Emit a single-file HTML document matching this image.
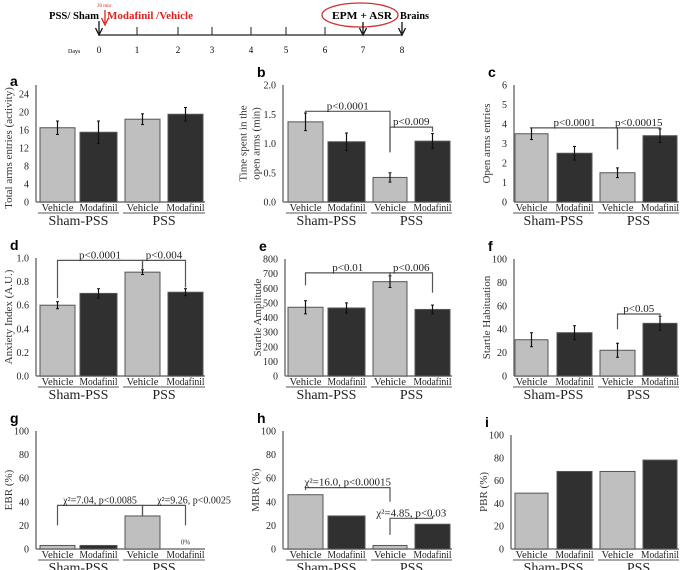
<!DOCTYPE html>
<html><head><meta charset="utf-8">
<style>
body{margin:0;background:#fff;}
svg{display:block;font-family:"Liberation Serif",serif;}
.pl{font-family:"Liberation Sans",sans-serif;font-weight:bold;font-size:14px;}
</style></head>
<body>
<svg id="fig" width="685" height="570" viewBox="0 0 685 570">
<g font-weight="bold" font-size="11">
  <text x="49" y="19" textLength="50" lengthAdjust="spacingAndGlyphs">PSS/ Sham</text>
  <text x="97" y="7" fill="#d22" font-size="5" font-weight="normal">30 min</text>
  <text x="107" y="19" fill="#d22" textLength="86" lengthAdjust="spacingAndGlyphs">Modafinil /Vehicle</text>
  <line x1="99" y1="35" x2="402" y2="35" stroke="#222" stroke-width="1.2"/>
  <line x1="99" y1="21" x2="99" y2="33" stroke="#111" stroke-width="1.3"/><path d="M95.5 28 L99 35 L102.5 28" fill="none" stroke="#111" stroke-width="1.3"/>
  <line x1="105" y1="10" x2="105" y2="23" stroke="#d22" stroke-width="1.3"/><path d="M101.5 18 L105 25 L108.5 18" fill="none" stroke="#d22" stroke-width="1.3"/>
  <ellipse cx="360" cy="15" rx="38" ry="12" fill="none" stroke="#c33" stroke-width="1.3"/>
  <text x="332" y="19" textLength="60" lengthAdjust="spacingAndGlyphs">EPM + ASR</text>
  <text x="400" y="19" textLength="29" lengthAdjust="spacingAndGlyphs">Brains</text>
  <line x1="363" y1="22" x2="363" y2="33" stroke="#111" stroke-width="1.3"/><path d="M359.5 28 L363 35 L366.5 28" fill="none" stroke="#111" stroke-width="1.3"/>
  <line x1="402" y1="22" x2="402" y2="33" stroke="#111" stroke-width="1.3"/><path d="M398.5 28 L402 35 L405.5 28" fill="none" stroke="#111" stroke-width="1.3"/>
  <text x="68" y="53" font-size="6" font-weight="normal">Days</text>
  <g id="days"></g>
</g>
<g id="panels"></g>
</svg>
<script>
const dayNums=[0,1,2,3,4,5,6,7,8];
const dayX=[99,137,178,212,251,286,325,363,402];
const NS="http://www.w3.org/2000/svg";
function mk(p,t,a,txt){const e=document.createElementNS(NS,t);for(const k in a)e.setAttribute(k,a[k]);if(txt!==undefined)e.textContent=txt;p.appendChild(e);return e;}
const dg=document.getElementById('days');
dayNums.forEach((d,i)=>{
  if(i>0&&i<7){mk(dg,'line',{x1:dayX[i],y1:27,x2:dayX[i],y2:35,stroke:'#222'});}
  const t=mk(dg,'text',{x:dayX[i],y:53,'text-anchor':'middle','font-size':9,'font-weight':'normal'},String(d));
  
  
});

const categories=["Vehicle","Modafinil","Vehicle","Modafinil"];
const groups=["Sham-PSS","PSS"];
const aVals=[16.5,15.5,18.4,19.5], aErr=[1.5,2.5,1.2,1.5], aTicks=[0,4,8,12,16,20,24];
const bVals=[1.37,1.03,0.42,1.04], bErr=[0.15,0.15,0.08,0.13], bTicks=[0.0,0.5,1.0,1.5,2.0];
const cVals=[3.5,2.5,1.5,3.4], cErr=[0.3,0.35,0.25,0.35], cTicks=[0,1,2,3,4,5,6];
const dVals=[0.60,0.70,0.88,0.71], dErr=[0.03,0.04,0.02,0.03], dTicks=[0.0,0.2,0.4,0.6,0.8,1.0];
const eVals=[470,465,645,455], eErr=[45,35,40,30], eTicks=[0,100,200,300,400,500,600,700,800];
const fVals=[31,37,22,45], fErr=[6,6,6,6], fTicks=[0,20,40,60,80,100];
const gVals=[3,3,28,0], gTicks=[0,20,40,60,80,100];
const hVals=[46,28,3,21], hTicks=[0,20,40,60,80,100];
const iVals=[49,68,68,78], iTicks=[0,20,40,60,80,100];

const root=document.getElementById('panels');
const colBars=[[40,75,80,117,125,160,168,203],[288,323,328,365,373,407,415,450],[515,548,557,592,600,635,643,677]];
function panel(o){
  const g=mk(root,'g',{});
  
  
  const bx=colBars[o.col];
  const y=v=>o.y0-(v-o.min)/(o.max-o.min)*(o.y0-o.yTop);
  const lt=mk(g,'text',{x:o.ax-26,y:o.yTop-8,class:'pl'},o.id);
  
  
  mk(g,'line',{x1:o.ax,y1:y(o.ticks[o.ticks.length-1])-(o.extra||0),x2:o.ax,y2:o.y0,stroke:'#777','stroke-width':1.5});
  mk(g,'line',{x1:o.ax,y1:o.y0,x2:bx[7]+2,y2:o.y0,stroke:'#777','stroke-width':1.5});
  o.ticks.forEach(t=>{
    const tl=mk(g,'text',{x:o.ax-7,y:y(t)+3.5,'text-anchor':'end','font-size':10,fill:'#222'},o.fmt?t.toFixed(1):String(t));
    
    
  });
  const tx=o.ax-24-(o.titleShift||0), ty=(o.y0+o.yTop)/2;
  const tt=mk(g,'text',{x:tx,y:ty,'text-anchor':'middle','font-size':11,fill:'#333',transform:`rotate(-90 ${tx} ${ty})`});
  
  
  o.title.forEach((s,i)=>{mk(tt,'tspan',{x:tx,dy:i==0?-(o.title.length-1)*6.5:13},s);});
  o.vals.forEach((v,i)=>{
    const x1=bx[2*i],x2=bx[2*i+1];
    if(v>0){
      const r=mk(g,'rect',{x:x1,y:y(v),width:x2-x1,height:o.y0-y(v),fill:i%2?'#303030':'#bfbfbf',stroke:'#555','stroke-width':1});
      
      
    }
    if(o.err){
      const cx=(x1+x2)/2;
      mk(g,'line',{x1:cx,y1:y(v-o.err[i]),x2:cx,y2:y(v+o.err[i]),stroke:'#111','stroke-width':1.2});
      mk(g,'line',{x1:cx-1.5,y1:y(v-o.err[i]),x2:cx+1.5,y2:y(v-o.err[i]),stroke:'#111'});
      mk(g,'line',{x1:cx-1.5,y1:y(v+o.err[i]),x2:cx+1.5,y2:y(v+o.err[i]),stroke:'#111'});
    }
    const xl=mk(g,'text',{x:(x1+x2)/2,y:o.y0+9,'text-anchor':'middle','font-size':10,fill:'#222',textLength:i%2?38:32,lengthAdjust:'spacingAndGlyphs'},categories[i]);
    
    
  });
  [0,1].forEach(k=>{
    const x1=bx[4*k]-2,x2=bx[4*k+3]+2;
    mk(g,'line',{x1:x1,y1:o.y0+11,x2:x2,y2:o.y0+11,stroke:'#555'});
    const gl=mk(g,'text',{x:(x1+x2)/2,y:o.y0+23,'text-anchor':'middle','font-size':14,fill:'#222'},groups[k]);
    
    
  });
  (o.br||[]).forEach(b=>{
    const xa=(bx[2*b[0]]+bx[2*b[0]+1])/2, xb=(bx[2*b[1]]+bx[2*b[1]+1])/2;
    const br=mk(g,'path',{d:`M${xa} ${y(b[2])} L${xa} ${y(b[4])} L${xb} ${y(b[4])} L${xb} ${y(b[3])}`,fill:'none',stroke:'#555','stroke-width':1.2});
    
    
    const bt=mk(g,'text',{x:(xa+xb)/2+(b[6]||0),y:y(b[4])-2,'text-anchor':'middle','font-size':b[7]||11,fill:'#222'},b[5]);
    
    
  });
  return {g,y,bx};
}
panel({id:'a',col:0,ax:36,y0:202,yTop:94,min:0,max:24,ticks:aTicks,vals:aVals,err:aErr,title:['Total arms entries (activity)'],extra:9});
panel({id:'b',col:1,ax:283,y0:202,yTop:85,min:0,max:2,ticks:bTicks,fmt:1,vals:bVals,err:bErr,title:['Time spent in the','open arms (min)'],titleShift:6,
  br:[[0,2,1.52,0.85,1.55,'p<0.0001'],[2,3,0.85,1.2,1.28,'p<0.009']]});
panel({id:'c',col:2,ax:514,y0:202,yTop:85,min:0,max:6,ticks:cTicks,vals:cVals,err:cErr,title:['Open arms entries'],
  br:[[0,2,3.8,2.7,3.8,'p<0.0001'],[2,3,2.7,3.75,3.8,'p<0.00015']]});
panel({id:'d',col:0,ax:36,y0:376,yTop:258,min:0,max:1,ticks:dTicks,fmt:1,vals:dVals,err:dErr,title:['Anxiety Index (A.U.)'],
  br:[[0,2,0.66,0.9,0.98,'p<0.0001'],[2,3,0.9,0.75,0.98,'p<0.004']]});
panel({id:'e',col:1,ax:285,y0:376,yTop:259,min:0,max:800,ticks:eTicks,vals:eVals,err:eErr,title:['Startle Amplitude'],
  br:[[0,2,620,690,705,'p<0.01'],[2,3,690,570,705,'p<0.006']]});
panel({id:'f',col:2,ax:514,y0:376,yTop:259,min:0,max:100,ticks:fTicks,vals:fVals,err:fErr,title:['Startle Habituation'],
  br:[[2,3,40,50,53,'p<0.05']]});
const pg=panel({id:'g',col:0,ax:36,y0:549,yTop:431,min:0,max:100,ticks:gTicks,vals:gVals,title:['EBR (%)'],
  br:[[0,2,20,28,37,'χ²=7.04, p<0.0085',0,10],[2,3,28,20,37,'χ²=9.26, p<0.0025',30,10]]});
const zt=mk(pg.g,'text',{x:(pg.bx[6]+pg.bx[7])/2,y:pg.y(4),'text-anchor':'middle','font-size':7,fill:'#333'},gVals[3]+'%');


panel({id:'h',col:1,ax:283,y0:549,yTop:431,min:0,max:100,ticks:hTicks,vals:hVals,title:['MBR (%)'],
  br:[[0,2,50,40,52,'χ²=16.0, p<0.00015',0,11],[2,3,12,28,26,'χ²=4.85, p<0.03',0,11]]});
panel({id:'i',col:2,ax:511,y0:549,yTop:435,min:0,max:100,ticks:iTicks,vals:iVals,title:['PBR (%)']});
</script>
</body></html>
